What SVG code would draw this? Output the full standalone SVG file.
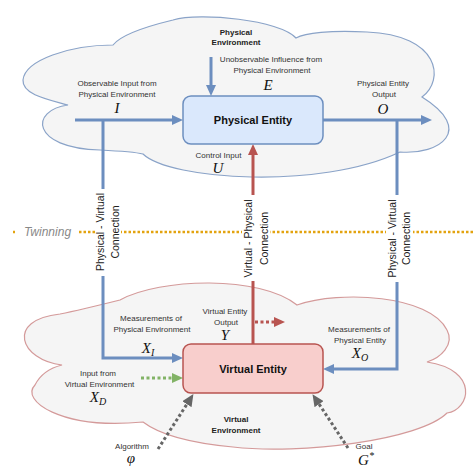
<svg xmlns="http://www.w3.org/2000/svg" width="474" height="474" viewBox="0 0 474 474">
<style>
.lbl{font-family:"Liberation Sans",Arial,sans-serif;font-size:8px;fill:#333;text-anchor:middle}
.bld{font-family:"Liberation Sans",Arial,sans-serif;font-size:8px;font-weight:bold;fill:#222;text-anchor:middle}
.box{font-family:"Liberation Sans",Arial,sans-serif;font-size:11px;font-weight:bold;fill:#111;text-anchor:middle}
.rot{font-family:"Liberation Sans",Arial,sans-serif;font-size:10.5px;fill:#222;text-anchor:middle}
.math{font-family:"Liberation Serif","Times New Roman",serif;font-style:italic;font-size:15px;fill:#111;text-anchor:middle}
.blue{fill:none;stroke:#6c8ebf;stroke-width:3}
.red{fill:none;stroke:#b85450;stroke-width:3}
.dotg{fill:none;stroke:#82b366;stroke-width:3;stroke-dasharray:3 2.5}
.dotr{fill:none;stroke:#b85450;stroke-width:3;stroke-dasharray:3 2.5}
.dotk{fill:none;stroke:#666;stroke-width:3;stroke-dasharray:3 2.5}
</style>
<defs>
<marker id="ab" markerUnits="userSpaceOnUse" markerWidth="11" markerHeight="10" refX="2" refY="5" orient="auto"><path d="M0,0 L11,5 L0,10 z" fill="#6c8ebf"/></marker>
<marker id="ar" markerUnits="userSpaceOnUse" markerWidth="11" markerHeight="10" refX="2" refY="5" orient="auto"><path d="M0,0 L11,5 L0,10 z" fill="#b85450"/></marker>
<marker id="ag" markerUnits="userSpaceOnUse" markerWidth="11" markerHeight="10" refX="2" refY="5" orient="auto"><path d="M0,0 L11,5 L0,10 z" fill="#82b366"/></marker>
<marker id="ak" markerUnits="userSpaceOnUse" markerWidth="12" markerHeight="11" refX="2" refY="5.5" orient="auto"><path d="M0,0 L12,5.5 L0,11 z" fill="#666"/></marker>
</defs>
<rect width="474" height="474" fill="#fff"/>
<g id="physical-environment">
<path d="M68,105 C30,110 30,148 100,150 C120,151 135,152 143,154 C170,180 320,190 400,152 C440,155 475,130 422,97 C445,80 440,35 367,32 C330,30 305,33 296,38 C280,20 200,12 173,20 C140,28 120,36 113,45 C70,45 25,60 23,80 C22,95 50,100 68,105 Z" fill="#f5f5f5" stroke="#8aa3c8" stroke-width="1.2"/>
<text class="bld" x="236" y="35">Physical</text>
<text class="bld" x="236" y="45">Environment</text>
</g>
<g id="virtual-environment">
<path d="M62,365 C20,360 5,320 60,314 C80,310 100,305 120,300 C160,278 260,275 297,305 C340,290 430,295 447,330 C455,345 440,358 427,362 C480,370 470,410 447,413 C420,440 300,455 233,447 C190,443 160,435 143,422 C60,430 20,400 35,385 C40,375 50,368 62,365 Z" fill="#f5f5f5" stroke="#d49a9a" stroke-width="1.2"/>
<text class="bld" x="236" y="422">Virtual</text>
<text class="bld" x="236" y="433">Environment</text>
</g>
<g id="twinning">
<line x1="13" y1="232" x2="15" y2="232" stroke="#e3a30f" stroke-width="2.5"/>
<line x1="79" y1="232" x2="474" y2="232" stroke="#e3a30f" stroke-width="2.5" stroke-dasharray="2.5 2"/>
<text x="47.5" y="236" font-family="Liberation Sans,Arial,sans-serif" font-style="italic" font-size="12" fill="#888" text-anchor="middle">Twinning</text>
</g>
<g id="connectors">
<path class="blue" d="M75,120 H174" marker-end="url(#ab)"/>
<path class="blue" d="M323,120 H423" marker-end="url(#ab)"/>
<path class="blue" d="M211,57 V87" marker-end="url(#ab)"/>
<path class="blue" d="M103,120 V358 H174" marker-end="url(#ab)"/>
<path class="blue" d="M397,120 V369 H332" marker-end="url(#ab)"/>
<path class="red" d="M253,344 V153" marker-end="url(#ar)"/>
<path class="dotr" d="M255,322 H276" marker-end="url(#ar)"/>
<path class="dotg" d="M141,378 H174" marker-end="url(#ag)"/>
<path class="dotk" d="M158,449 L188,402.5" marker-end="url(#ak)"/>
<path class="dotk" d="M348,448 L318,402.5" marker-end="url(#ak)"/>
<g id="label-pv-left">
<rect x="95" y="189" width="26" height="87" fill="#fff"/>
<text class="rot" transform="translate(104,232) rotate(-90)"><tspan x="0" y="0">Physical - Virtual</tspan><tspan x="0" y="15">Connection</tspan></text>
</g>
<g id="label-vp-mid">
<rect x="242" y="195" width="28" height="86" fill="#fff"/>
<text class="rot" transform="translate(252,238.5) rotate(-90)"><tspan x="0" y="0">Virtual - Physical</tspan><tspan x="0" y="15.5">Connection</tspan></text>
</g>
<g id="label-pv-right">
<rect x="386" y="195" width="27" height="87" fill="#fff"/>
<text class="rot" transform="translate(396,238.5) rotate(-90)"><tspan x="0" y="0">Physical - Virtual</tspan><tspan x="0" y="14">Connection</tspan></text>
</g>
</g>
<g id="physical-entity">
<rect x="183" y="96" width="140" height="48" rx="8" fill="#dae8fc" stroke="#6c8ebf" stroke-width="1.5"/>
<text class="box" x="253" y="124">Physical Entity</text>
</g>
<g id="virtual-entity">
<rect x="183" y="344" width="140" height="49" rx="8" fill="#f8cecc" stroke="#b85450" stroke-width="1.5"/>
<text class="box" x="253" y="373">Virtual Entity</text>
</g>
<g id="label-I">
<text class="lbl" x="117" y="86">Observable Input from</text>
<text class="lbl" x="117" y="97">Physical Environment</text>
<text class="math" x="117" y="113">I</text>
</g>
<g id="label-E">
<text class="lbl" x="271" y="62">Unobservable Influence from</text>
<text class="lbl" x="272" y="73">Physical Environment</text>
<text class="math" x="268" y="90">E</text>
</g>
<g id="label-O">
<text class="lbl" x="383" y="86">Physical Entity</text>
<text class="lbl" x="384" y="97">Output</text>
<text class="math" x="383" y="114">O</text>
</g>
<g id="label-U">
<text class="lbl" x="218.5" y="158">Control Input</text>
<text class="math" x="218" y="173">U</text>
</g>
<g id="label-XI">
<text class="lbl" x="151" y="321">Measurements of</text>
<text class="lbl" x="152" y="332">Physical Environment</text>
<text class="math" x="148" y="353">X<tspan font-size="10" dy="3">I</tspan></text>
</g>
<g id="label-Y">
<text class="lbl" x="225" y="314">Virtual Entity</text>
<text class="lbl" x="226" y="325">Output</text>
<text class="math" x="225" y="340" font-size="14">Y</text>
</g>
<g id="label-XO">
<text class="lbl" x="359" y="332">Measurements of</text>
<text class="lbl" x="360" y="343">Physical Entity</text>
<text class="math" x="360" y="358">X<tspan font-size="10" dy="3">O</tspan></text>
</g>
<g id="label-XD">
<text class="lbl" x="98" y="376">Input from</text>
<text class="lbl" x="99.5" y="387">Virtual Environment</text>
<text class="math" x="98" y="402">X<tspan font-size="10" dy="3">D</tspan></text>
</g>
<g id="label-alg">
<text class="lbl" x="132" y="449">Algorithm</text>
<text class="math" x="131" y="463">φ</text>
</g>
<g id="label-goal">
<text class="lbl" x="364" y="449">Goal</text>
<text class="math" x="366" y="465">G<tspan font-size="10" dy="-6">*</tspan></text>
</g>
</svg>
